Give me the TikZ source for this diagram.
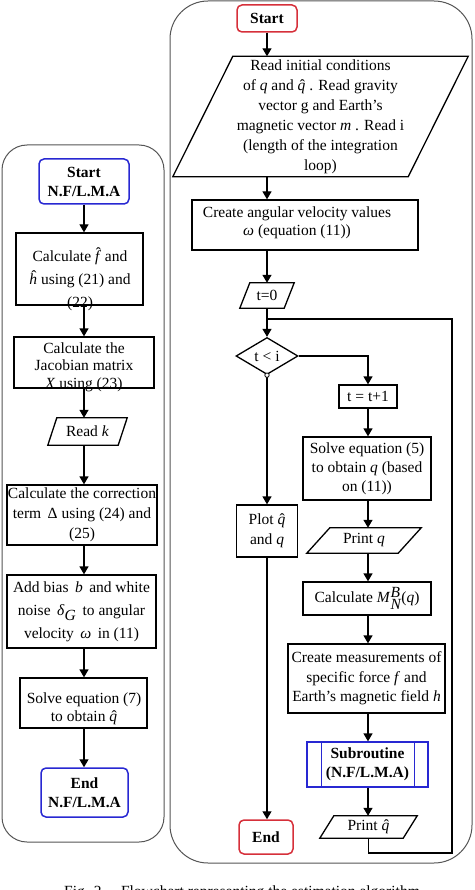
\documentclass[tikz,border=0pt]{standalone}
\usepackage{fontspec}
\setmainfont{Liberation Serif}
\usetikzlibrary{arrows.meta,calc,shapes.geometric}
\definecolor{termred}{RGB}{214,48,58}
\definecolor{subblue}{RGB}{40,40,210}
\definecolor{framegray}{RGB}{85,85,85}
% italic letter with a circumflex: #1 letter, #2 horizontal shift, #3 raise
\newcommand\hatit[3]{\makebox[0pt][l]{\hspace*{#2}\raisebox{#3}{ˆ}}\textit{#1}}
\newcommand\hq{\hatit{q}{0.14em}{0pt}}
\newcommand\fsz[1]{\fontsize{15.5}{#1}\selectfont}
\begin{document}
\begin{tikzpicture}[x=1pt,y=-1pt,
  every node/.style={font=\fsz{20}, inner sep=0pt, align=center},
  proc/.style={draw, line width=1.3pt, rectangle},
  term/.style={draw, line width=1.5pt, rounded corners=5pt, font=\bfseries\fsz{19}},
  para/.style={rectangle},
  frame/.style={draw=framegray, line width=1pt},
  conn/.style={line width=1.3pt},
  arr/.style={line width=1.3pt, -{Triangle[length=8pt,width=9pt]}}]
\useasboundingbox (0,0) rectangle (474,890);
\clip (0,0) rectangle (474,890);

% containers
\draw[frame, rounded corners=25pt] (2,145) rectangle (164,842);
\draw[frame, rounded corners=38pt] (170,1) rectangle (472,863);

% ---------------- right flowchart ----------------
\node[term, draw=termred, minimum width=60pt, minimum height=27pt] (start) at (267,18.5) {Start};
\node[para, minimum width=295pt, minimum height=120pt] (rp1) at (320.5,116.5)
  {Read initial conditions\\of \textit{q} and \hq\ . Read gravity\\vector g and Earth’s\\magnetic vector \textit{m} . Read i\\(length of the integration\\loop)};
\node[proc, minimum width=226pt, minimum height=50pt] (cav) at (305,225) {};
\node[font=\fsz{18}] (cavt) at (297,223)
  {Create angular velocity values\\\textit{ω} (equation (11))};
\node[para, minimum width=54pt, minimum height=25pt] (t0) at (267,295.5) {t=0};
\node[draw, diamond, line width=1.3pt, aspect=1.7, minimum width=62pt, minimum height=37pt] (d) at (267,356) {t < i};
\node[proc, minimum width=61pt, minimum height=52pt] (plot) at (267,531) {Plot \hq\\and \textit{q}};
\node[term, draw=termred, minimum width=54pt, minimum height=34pt] (end) at (266,837) {End};
\node[proc, minimum width=58pt, minimum height=23pt] (tt) at (368,396.5) {t = t+1};
\node[proc, minimum width=128pt, minimum height=63pt, font=\fsz{19}] (solve) at (367,468.5)
  {Solve equation (5)\\to obtain \textit{q} (based\\on (11))};
\node[para, minimum width=114pt, minimum height=25pt] (pq) at (364,540.5) {Print \textit{q}};
\node[proc, minimum width=128pt, minimum height=33pt] (calcM) at (367,598.5)
  {Calculate \textit{M}$^{\textit{B}}_{\textit{N}}$(\textit{q})};
\node[proc, minimum width=157pt, minimum height=69pt, font=\fsz{19.5}] (meas) at (366.5,678.5)
  {Create measurements of\\specific force \textit{f} and\\Earth’s magnetic field \textit{h}};
\node[draw=subblue, line width=1.3pt, rectangle, minimum width=121pt, minimum height=45pt, font=\bfseries\fsz{19}] (sub) at (367.5,764.5)
  {Subroutine\\(N.F/L.M.A)};
\draw[subblue, line width=1.3pt] ($(sub.north west)+(15,0)$) -- ($(sub.south west)+(15,0)$);
\draw[subblue, line width=1.3pt] ($(sub.north east)+(-14,0)$) -- ($(sub.south east)+(-14,0)$);
\node[para, minimum width=97pt, minimum height=22pt] (pq2) at (368.5,827) {Print \hq};

% parallelogram outlines
\foreach \n/\s in {rp1/60, t0/10, pq/23, pq2/14}{
  \draw[line width=1.3pt] ($(\n.north west)+(\s,0)$) -- (\n.north east)
     -- ($(\n.south east)-(\s,0)$) -- (\n.south west) -- cycle;
}

\coordinate (j) at (267,319);
\coordinate (loopc) at (452,853);

% right connectors
\draw[arr] (start.south) -- (start.south |- rp1.north);
\draw[arr] (start.south |- rp1.south) -- (start.south |- cav.north);
\draw[arr] (start.south |- cav.south) -- (t0.north);
\draw[arr] (t0.south) -- (d.north);
\draw[conn] (pq2.south) |- (loopc) |- (j);
\draw[arr] (d.east) -| (tt.north);
\draw[arr] (tt.south) -- (tt.south |- solve.north);
\draw[arr] (tt.south |- solve.south) -- (tt.south |- pq.north);
\draw[arr] (tt.south |- pq.south) -- (tt.south |- calcM.north);
\draw[arr] (tt.south |- calcM.south) -- (tt.south |- meas.north);
\draw[arr] (tt.south |- meas.south) -- (tt.south |- sub.north);
\draw[arr] (tt.south |- sub.south) -- (tt.south |- pq2.north);
\draw[arr] (d.south) -- (plot.north);
\draw[line width=0.8pt, fill=white] (d.south) circle (2.2);
\draw[arr] (plot.south) -- (plot.south |- end.north);

% ---------------- left flowchart ----------------
\node[term, draw=subblue, minimum width=90pt, minimum height=45pt] (ls) at (84,181.5) {Start\\N.F/L.M.A};
\node[proc, minimum width=127pt, minimum height=72pt] (lf) at (79.5,269) {};
\node[font=\fsz{23}] (lft) at (80,279)
  {Calculate \hatit{f}{0.06em}{0.22em} and\\\hatit{h}{0.12em}{0.22em} using (21) and\\(22)};
\node[proc, minimum width=140pt, minimum height=51pt] (lj) at (84,362.5) {};
\node[font=\fsz{17.5}] (ljt) at (84,367) {Calculate the\\Jacobian matrix\\\textit{X} using (23)};
\node[para, minimum width=79pt, minimum height=27pt] (lk) at (87.5,431.5) {Read \textit{k}};
\draw[line width=1.3pt] ($(lk.north west)+(9,0)$) -- (lk.north east)
   -- ($(lk.south east)-(9,0)$) -- (lk.south west) -- cycle;
\node[proc, minimum width=150pt, minimum height=60pt] (lc) at (82,515)
  {Calculate the correction\\term \,Δ using (24) and\\(25)};
\node[proc, minimum width=149pt, minimum height=73pt, font=\fsz{23}] (lb) at (81.5,611.5)
  {Add bias \,\textit{b}\, and white\\noise \,\textit{δ}$_{\textit{G}}$\, to angular\\velocity \,\textit{ω}\, in (11)};
\node[proc, minimum width=127pt, minimum height=50pt] (ls2) at (83.5,703) {};
\node[font=\fsz{18}] (ls2t) at (84,709) {Solve equation (7)\\to obtain \hq};
\node[term, draw=subblue, minimum width=87pt, minimum height=49pt] (le) at (84.5,792.5) {End\\N.F/L.M.A};

% left connectors
\draw[arr] (ls.south) -- (ls.south |- lf.north);
\draw[arr] (ls.south |- lf.south) -- (ls.south |- lj.north);
\draw[arr] (ls.south |- lj.south) -- (ls.south |- lk.north);
\draw[arr] (ls.south |- lk.south) -- (ls.south |- lc.north);
\draw[arr] (ls.south |- lc.south) -- (ls.south |- lb.north);
\draw[arr] (ls.south |- lb.south) -- (ls.south |- ls2.north);
\draw[arr] (ls.south |- ls2.south) -- (ls.south |- le.north);

% caption (cut by the lower edge)
\node[anchor=base, font=\fsz{18}] (cap) at (242,896) {Fig. 2.\quad Flowchart representing the estimation algorithm};
\end{tikzpicture}
\end{document}
